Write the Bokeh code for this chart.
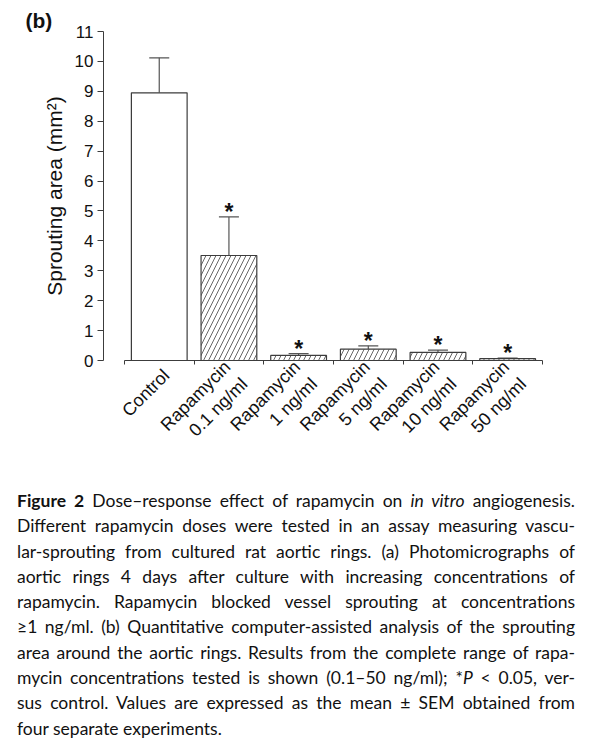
import math
from bokeh.plotting import figure
from bokeh.models import (ColumnDataSource, Range1d, FixedTicker, Whisker, TeeHead, Div)
from bokeh.layouts import column
from bokeh.embed import file_html
from bokeh.resources import INLINE
from bokeh.core.properties import value

# ---------------- data ----------------
categories = ["Control", "Rapamycin\n0.1 ng/ml", "Rapamycin\n1 ng/ml",
              "Rapamycin\n5 ng/ml", "Rapamycin\n10 ng/ml", "Rapamycin\n50 ng/ml"]
means = [8.95, 3.51, 0.17, 0.38, 0.27, 0.06]
sems = [1.17, 1.29, 0.06, 0.11, 0.08, 0.02]
significance = ["", "*", "*", "*", "*", "*"]
patterns = ["blank", "/", "/", "/", "/", "/"]
y_ticks = list(range(0, 12))

caption_lines = [
    "<b>Figure 2</b> Dose&ndash;response effect of rapamycin on <i>in vitro</i> angiogenesis.",
    "Different rapamycin doses were tested in an assay measuring vascu-",
    "lar-sprouting from cultured rat aortic rings. (a) Photomicrographs of",
    "aortic rings 4 days after culture with increasing concentrations of",
    "rapamycin. Rapamycin blocked vessel sprouting at concentrations",
    "&ge;1 ng/ml. (b) Quantitative computer-assisted analysis of the sprouting",
    "area around the aortic rings. Results from the complete range of rapa-",
    "mycin concentrations tested is shown (0.1&ndash;50 ng/ml); *<i>P</i> &lt; 0.05, ver-",
    "sus control. Values are expressed as the mean &plusmn; SEM obtained from",
    "four separate experiments.",
]

# ---------------- derived ----------------
n = len(categories)
xpos = [i + 0.5 for i in range(n)]
label_pos = [xv + 0.1 for xv in xpos]
upper = [m + s for m, s in zip(means, sems)]
src = ColumnDataSource(dict(x=xpos, top=means, upper=upper, sig=significance,
                            pat=patterns))

FONT = "Liberation Sans"
INK = "#111111"
LINE = "#3c3c3c"

p = figure(width=594, height=478, output_backend="svg", toolbar_location=None,
           x_range=Range1d(-0.3, n), y_range=Range1d(0, 11),
           min_border_left=103, min_border_right=52, min_border_top=31,
           min_border_bottom=118)
p.outline_line_color = None
p.xgrid.visible = False
p.ygrid.visible = False
p.background_fill_color = "white"
p.border_fill_color = "white"

p.title.text = "(b)"
p.title.align = "left"
p.title.offset = -78
p.title.standoff = 0
p.title.text_font = FONT
p.title.text_font_size = "21px"
p.title.text_font_style = "bold"
p.title.text_color = INK

p.vbar(x="x", top="top", bottom=0, width=0.8, source=src, fill_color="white",
       line_color=LINE, line_width=1.2, hatch_pattern="pat", hatch_color="#555555",
       hatch_scale=10, hatch_weight=0.9)

wh = Whisker(source=src, base="x", upper="upper", lower="top", line_color="#555555",
             line_width=1.2,
             upper_head=TeeHead(size=20, line_color="#555555", line_width=1.2),
             lower_head=None)
p.add_layout(wh)

p.text(x="x", y="upper", text="sig", source=src, text_font=value(FONT),
       text_font_style="bold", text_font_size="23px", text_align="center",
       text_baseline="middle", y_offset=-5, text_color=INK)

# y axis
ya = p.yaxis[0]
ya.ticker = FixedTicker(ticks=y_ticks)
ya.bounds = (0, 11)
ya.axis_line_color = LINE
ya.major_tick_line_color = LINE
ya.major_tick_out = 6
ya.major_tick_in = 0
ya.minor_tick_line_color = None
ya.major_label_text_font = FONT
ya.major_label_text_font_size = "17px"
ya.major_label_text_color = INK
ya.major_label_standoff = 4
ya.axis_label = "Sprouting area (mm\u00b2)"
ya.axis_label_text_font = FONT
ya.axis_label_text_font_size = "21px"
ya.axis_label_text_font_style = "normal"
ya.axis_label_text_color = INK
ya.axis_label_standoff = 6

# x axis
xa = p.xaxis[0]
xa.ticker = FixedTicker(ticks=label_pos, minor_ticks=list(range(n + 1)))
xa.major_label_overrides = {xv: c for xv, c in zip(label_pos, categories)}
xa.bounds = (0, n)
xa.axis_line_color = LINE
xa.major_tick_line_color = None
xa.major_tick_out = 0
xa.major_tick_in = 0
xa.minor_tick_line_color = LINE
xa.minor_tick_out = 4
xa.minor_tick_in = 0
xa.major_label_orientation = math.pi / 4
xa.major_label_text_font = FONT
xa.major_label_text_font_size = "18px"
xa.major_label_text_color = INK
xa.major_label_standoff = 8

rows = []
for i, ln in enumerate(caption_lines):
    al = "left" if i == len(caption_lines) - 1 else "justify"
    rows.append(f'<div style="text-align:{al};text-align-last:{al};white-space:nowrap;">{ln}</div>')
html = ('<div style="font-family:Lato;font-size:17.5px;line-height:25.3px;'
        'color:#111;width:570px;padding-left:12px;padding-top:5px;">'
        + "".join(rows) + "</div>")
cap = Div(text=html, width=594)

layout = column(p, cap, spacing=0)
open("out.html", "w").write(file_html(layout, INLINE))
